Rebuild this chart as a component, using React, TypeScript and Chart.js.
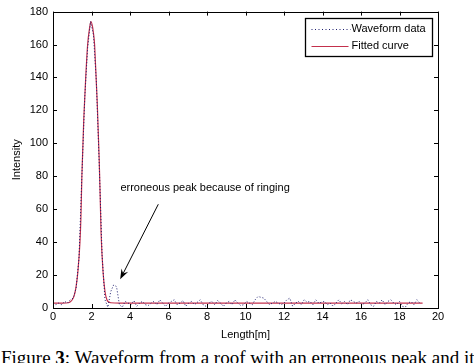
import React, { useEffect, useRef } from "react";
import { Chart, registerables } from "chart.js";

Chart.register(...registerables);

const waveLength = [
  0, 0.15, 0.3, 0.45, 0.6, 0.75, 0.9, 1.05, 1.2, 1.35, 1.5, 1.65, 1.8, 1.95, 2.1, 2.25, 2.4, 2.55, 2.7, 2.85,
  3.0, 3.15, 3.3, 3.45, 3.6, 3.75, 3.9, 4.05, 4.2, 4.35, 4.5, 4.65, 4.8, 4.95, 5.1, 5.25, 5.4, 5.55, 5.7, 5.85,
  6.0, 6.15, 6.3, 6.45, 6.6, 6.75, 6.9, 7.05, 7.2, 7.35, 7.5, 7.65, 7.8, 7.95, 8.1, 8.25, 8.4, 8.55, 8.7, 8.85,
  9.0, 9.15, 9.3, 9.45, 9.6, 9.75, 9.9, 10.05, 10.2, 10.35, 10.5, 10.65, 10.8, 10.95, 11.1, 11.25, 11.4, 11.55,
  11.7, 11.85, 12.0, 12.15, 12.3, 12.45, 12.6, 12.75, 12.9, 13.05, 13.2, 13.35, 13.5, 13.65, 13.8, 13.95, 14.1,
  14.25, 14.4, 14.55, 14.7, 14.85, 15.0, 15.15, 15.3, 15.45, 15.6, 15.75, 15.9, 16.05, 16.2, 16.35, 16.5, 16.65,
  16.8, 16.95, 17.1, 17.25, 17.4, 17.55, 17.7, 17.85, 18.0, 18.15, 18.3, 18.45, 18.6, 18.75, 18.9, 19.05,
];
const waveIntensity = [
  3, 2, 3, 2, 4, 3, 5, 6, 12, 30, 80, 128, 158, 174, 166, 138, 88, 32, 5, 0.5,
  10, 14, 13, 2, 0.5, 4, 3, 2, 4.5, 1, 3, 4, 2, 1.5, 3, 4, 2, 5, 3, 1,
  3, 4, 5, 2, 3, 4.5, 1, 3, 4, 2, 3.5, 5, 2, 1, 3, 4, 2, 4.5, 3, 1,
  3, 4, 2, 5, 3, 1.5, 2, 4, 3, 2, 5, 7, 6.5, 6, 4, 2, 3, 4,
  3, 2, 3, 5, 6, 1, 3, 4, 2, 5, 3.5, 4, 2, 5, 3, 3.5, 4,
  2, 3, 1, 3, 5, 2.5, 4, 2, 5, 4, 3, 4, 2, 3, 5, 2, 1,
  4, 3, 5, 2, 4, 5, 3, 2, 4, 1, 0.5, 3, 4, 2, 5, 3,
];

const fitLength = [
  0, 0.5, 0.8, 0.9, 1.0, 1.1, 1.2, 1.3, 1.4, 1.45, 1.5, 1.6, 1.7, 1.8, 1.9, 1.97, 2.05, 2.1, 2.16, 2.2, 2.3,
  2.4, 2.45, 2.5, 2.6, 2.7, 2.8, 2.9, 3.0, 3.5, 19.2,
];
const fitIntensity = [
  3, 3, 3.2, 3.8, 5, 7.5, 13, 23, 40, 55, 80, 115, 140, 160, 170, 174, 171, 167, 160, 150, 124,
  90, 68, 45, 22, 10, 5, 3.6, 3.2, 3, 3,
];

const xTicks = [0, 2, 4, 6, 8, 10, 12, 14, 16, 18, 20];
const yTicks = [0, 20, 40, 60, 80, 100, 120, 140, 160, 180];

const legendLabels = ["Waveform data", "Fitted curve"];
const annotationText = "erroneous peak because of ringing";
const annotationAt = { x: 3.5, y: 73 };
const arrowFrom = { x: 5.47, y: 63 };
const arrowTo = { x: 3.49, y: 17.4 };

const WAVE_COLOR = "#1c1c6e";
const FIT_COLOR = "#c3304c";
const FONT = "'Liberation Sans', Arial, sans-serif";

const decorPlugin = {
  id: "decor",
  afterDraw(chart: any) {
    const { ctx, chartArea, scales } = chart;
    const xs = scales.x;
    const ys = scales.y;
    const { left, right, top, bottom } = chartArea;
    ctx.save();
    ctx.strokeStyle = "#000";
    ctx.lineWidth = 1;
    ctx.strokeRect(Math.round(left) + 0.5, Math.round(top) + 0.5, Math.round(right - left), Math.round(bottom - top));
    const tl = 4;
    ctx.beginPath();
    xTicks.forEach((v) => {
      const px = Math.round(xs.getPixelForValue(v)) + 0.5;
      ctx.moveTo(px, bottom);
      ctx.lineTo(px, bottom - tl);
      ctx.moveTo(px, top);
      ctx.lineTo(px, top + tl);
    });
    yTicks.forEach((v) => {
      const py = Math.round(ys.getPixelForValue(v)) + 0.5;
      ctx.moveTo(left, py);
      ctx.lineTo(left + tl, py);
      ctx.moveTo(right, py);
      ctx.lineTo(right - tl, py);
    });
    ctx.stroke();

    ctx.fillStyle = "#000";
    ctx.font = `11px ${FONT}`;
    ctx.textBaseline = "middle";
    ctx.textAlign = "left";
    ctx.fillText(annotationText, xs.getPixelForValue(annotationAt.x), ys.getPixelForValue(annotationAt.y));
    const x1 = xs.getPixelForValue(arrowFrom.x);
    const y1 = ys.getPixelForValue(arrowFrom.y);
    const x2 = xs.getPixelForValue(arrowTo.x);
    const y2 = ys.getPixelForValue(arrowTo.y);
    const ang = Math.atan2(y2 - y1, x2 - x1);
    const hl = 11;
    const hw = 0.35;
    ctx.beginPath();
    ctx.moveTo(x1, y1);
    ctx.lineTo(x2 - Math.cos(ang) * 6, y2 - Math.sin(ang) * 6);
    ctx.stroke();
    ctx.beginPath();
    ctx.moveTo(x2, y2);
    ctx.lineTo(x2 - hl * Math.cos(ang - hw), y2 - hl * Math.sin(ang - hw));
    ctx.lineTo(x2 - hl * 0.6 * Math.cos(ang), y2 - hl * 0.6 * Math.sin(ang));
    ctx.lineTo(x2 - hl * Math.cos(ang + hw), y2 - hl * Math.sin(ang + hw));
    ctx.closePath();
    ctx.fill();

    const bw = 127;
    const bh = 38;
    const bx = Math.round(right - 6 - bw) + 0.5;
    const by = Math.round(top + 6) + 0.5;
    ctx.fillStyle = "#fff";
    ctx.fillRect(bx, by, bw, bh);
    ctx.strokeStyle = "#000";
    ctx.lineWidth = 1.3;
    ctx.strokeRect(bx, by, bw, bh);
    const rows = [by + 10.5, by + 27.5];
    ctx.lineWidth = 1;
    ctx.strokeStyle = WAVE_COLOR;
    ctx.setLineDash([1, 2.5]);
    ctx.beginPath();
    ctx.moveTo(bx + 6, Math.round(rows[0]) + 0.5);
    ctx.lineTo(bx + 45, Math.round(rows[0]) + 0.5);
    ctx.stroke();
    ctx.setLineDash([]);
    ctx.strokeStyle = FIT_COLOR;
    ctx.beginPath();
    ctx.moveTo(bx + 6, Math.round(rows[1]) + 0.5);
    ctx.lineTo(bx + 43, Math.round(rows[1]) + 0.5);
    ctx.stroke();
    ctx.fillStyle = "#000";
    ctx.font = `11px ${FONT}`;
    ctx.fillText(legendLabels[0], bx + 46, rows[0]);
    ctx.fillText(legendLabels[1], bx + 46, rows[1]);
    ctx.restore();
  },
};

export default function App() {
  const ref = useRef<HTMLCanvasElement>(null);
  useEffect(() => {
    if (!ref.current) return;
    const chart = new Chart(ref.current, {
      type: "scatter",
      data: {
        datasets: [
          {
            label: legendLabels[1],
            data: fitLength.map((x, i) => ({ x, y: fitIntensity[i] })),
            showLine: true,
            borderColor: FIT_COLOR,
            borderWidth: 1.2,
            pointRadius: 0,
            cubicInterpolationMode: "monotone",
            order: 2,
          },
          {
            label: legendLabels[0],
            data: waveLength.map((x, i) => ({ x, y: waveIntensity[i] })),
            showLine: true,
            borderColor: WAVE_COLOR,
            borderWidth: 1,
            borderDash: [1, 2],
            pointRadius: 0,
            order: 1,
          },
        ],
      },
      options: {
        animation: false,
        responsive: true,
        maintainAspectRatio: false,
        layout: { padding: { left: 0, right: 36, top: 8, bottom: 0 } },
        plugins: { legend: { display: false }, tooltip: { enabled: false } },
        scales: {
          x: {
            type: "linear",
            min: 0,
            max: 20,
            afterFit: (s: any) => {
              s.height = 37;
            },
            afterBuildTicks: (s: any) => {
              s.ticks = xTicks.map((v) => ({ value: v }));
            },
            grid: { display: false, drawTicks: false },
            border: { display: false },
            ticks: { color: "#000", font: { family: FONT, size: 11 }, padding: 2, maxRotation: 0 },
            title: {
              display: true,
              text: "Length[m]",
              color: "#000",
              font: { family: FONT, size: 11 },
              padding: { top: 0, bottom: 3 },
            },
          },
          y: {
            type: "linear",
            min: 0,
            max: 180,
            afterFit: (s: any) => {
              s.width = 53;
            },
            afterBuildTicks: (s: any) => {
              s.ticks = yTicks.map((v) => ({ value: v }));
            },
            grid: { display: false, drawTicks: false },
            border: { display: false },
            ticks: { color: "#000", font: { family: FONT, size: 11 }, padding: 5 },
            title: {
              display: true,
              text: "Intensity",
              color: "#000",
              font: { family: FONT, size: 11 },
              padding: { top: 10, bottom: 0 },
            },
          },
        },
      },
      plugins: [decorPlugin],
    } as any);
    return () => chart.destroy();
  }, []);

  return (
    <div style={{ position: "absolute", left: 0, top: 0, width: 474, height: 363, overflow: "hidden", background: "#fff" }}>
      <div style={{ position: "absolute", left: 0, top: 0, width: 474, height: 345 }}>
        <canvas ref={ref} />
      </div>
      <div
        style={{
          position: "absolute",
          left: 1,
          top: 348,
          whiteSpace: "nowrap",
          fontFamily: "'Liberation Serif', 'Times New Roman', serif",
          fontSize: 19,
          lineHeight: "19px",
          color: "#000",
        }}
      >
        Figure <b>3</b>: Waveform from a roof with an erroneous peak and its
      </div>
    </div>
  );
}
